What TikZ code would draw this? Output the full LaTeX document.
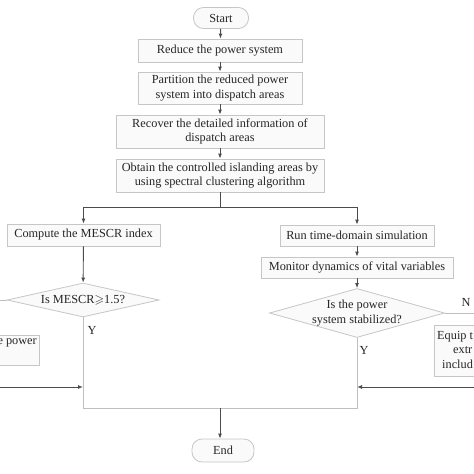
\documentclass[tikz,border=0pt]{standalone}
\usepackage{amssymb}
\usepackage{fontspec}
\setmainfont{Liberation Serif}
\usetikzlibrary{shapes.geometric,arrows.meta}
\begin{document}
\begin{tikzpicture}[x=1pt,y=-1pt,
  every node/.style={font=\fontsize{12.3}{14.5}\selectfont, text=black!85},
  box/.style={draw=gray!45, fill=gray!4, line width=0.8pt, minimum height=21pt, inner sep=2pt, align=center},
  term/.style={box, rounded corners=10pt},
  dia/.style={diamond, draw=gray!45, fill=gray!4, line width=0.8pt, inner sep=0pt},
  conn/.style={draw=black!70, line width=0.9pt},
  arr/.style={conn, -{Latex[length=5pt,width=4pt]}},
  merge/.style={draw=gray!50, line width=0.8pt},
  frag/.style={inner sep=0pt}
]
\useasboundingbox (0,0) rectangle (474,474);
\begin{scope}
\clip (0,0) rectangle (474,474);
% nodes
\node[term, minimum width=55pt, minimum height=21pt] (start) at (221,18) {Start};
\node[box, minimum width=164pt, minimum height=23pt] (reduce) at (220,50.5) {Reduce the power system};
\node[box, minimum width=164pt, minimum height=32pt] (part) at (220,88) {Partition the reduced power\\system into dispatch areas};
\node[box, minimum width=208pt, minimum height=33pt] (recov) at (220,131.5) {Recover the detailed information of\\dispatch areas};
\node[box, minimum width=208pt, minimum height=33pt] (obtain) at (220,175.5) {Obtain the controlled islanding areas by\\using spectral clustering algorithm};
\coordinate (split) at (220,207);
\node[box, minimum width=153pt, minimum height=22pt] (comp) at (83.5,235) {Compute the MESCR index};
\node[box, minimum width=154pt] (run) at (357,235.5) {Run time-domain simulation};
\node[box, minimum width=192pt] (mon) at (357,267.5) {Monitor dynamics of vital variables};
\node[dia, minimum width=152pt, minimum height=34pt] (d1) at (83,300) {};
\node[frag] (d1t) at (d1) {Is MESCR$\geqslant$1.5?};
\node[dia, minimum width=175pt, minimum height=49pt] (d2) at (357,313) {};
\node[frag, align=center] (d2t) at (d2) {Is the power\\system stabilized?};
\node[box, minimum width=100pt, minimum height=30pt] (lbox) at (-11,350) {};
\node[frag, anchor=east] (lboxt) at (37,343) {e power};
\node[box, minimum width=100pt, minimum height=51pt] (rbox) at (484,350.5) {};
\node[frag, anchor=west] (rt1) at (437,337) {Equip t};
\node[frag, anchor=west] (rt2) at (453,350) {extr};
\node[frag, anchor=west] (rt3) at (442,364) {includ};
\node[term, minimum width=62pt, minimum height=23pt] (end) at (223,450.5) {End};
% labels
\node[frag] (y1) at (92,330) {Y};
\node[frag] (y2) at (364,350) {Y};
\node[frag] (n2) at (466,302) {N};
% coordinates
\coordinate (lout) at (-5,300);
\coordinate (lret) at (-5,387);
\coordinate (ljoin) at (83,387);
\coordinate (rout) at (480,313);
\coordinate (rret) at (480,387);
\coordinate (rjoin) at (357,387);
\coordinate (br) at (357,408);
\coordinate (mid) at (220,408);
% connectors
\draw[arr] (start) -- (reduce);
\draw[arr] (reduce) -- (part);
\draw[arr] (part) -- (recov);
\draw[arr] (recov) -- (obtain);
\draw[conn] (obtain.south) -- (split);
\draw[arr] (split) -| (comp.north);
\draw[arr] (split) -| (run.north);
\draw[arr] (comp) -- (d1);
\draw[arr] (run) -- (mon);
\draw[arr] (mon) -- (d2);
\draw[merge] (d1.west) -- (lout);
\draw[merge] (d2.east) -- (rout);
\draw[arr] (lret) -- (ljoin);
\draw[arr] (rret) -- (rjoin);
\draw[merge] (d1.south) |- (br) -- (d2.south);
\draw[arr] (mid) -- (mid |- end.north);
\end{scope}
\end{tikzpicture}
\end{document}
